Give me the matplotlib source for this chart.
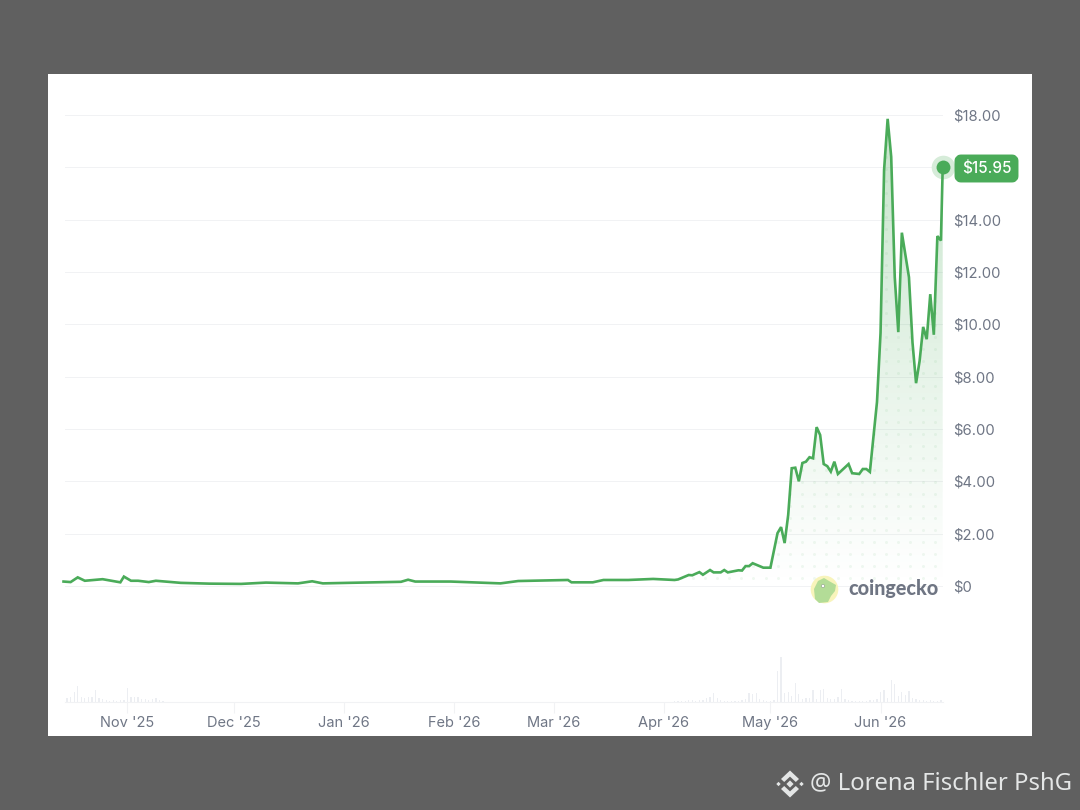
"""CoinGecko style price chart with volume strip and footer credit."""
import matplotlib
matplotlib.use("Agg")
import matplotlib.dates as mdates
import matplotlib.pyplot as plt
import numpy as np
import pandas as pd
from matplotlib.patches import Circle, FancyBboxPatch, Polygon, Rectangle

price_dates = [
    "2025-10-14", "2025-10-16", "2025-10-18", "2025-10-20", "2025-10-25", "2025-10-30", "2025-10-31",
    "2025-11-02", "2025-11-04", "2025-11-07", "2025-11-09", "2025-11-16", "2025-11-24", "2025-12-03",
    "2025-12-10", "2025-12-19", "2025-12-23", "2025-12-26", "2026-01-02", "2026-01-17", "2026-01-19",
    "2026-01-21", "2026-01-31", "2026-02-14", "2026-02-19", "2026-03-05", "2026-03-06", "2026-03-12",
    "2026-03-15", "2026-03-22", "2026-03-29", "2026-04-04", "2026-04-05", "2026-04-08", "2026-04-09",
    "2026-04-11", "2026-04-12", "2026-04-14", "2026-04-15", "2026-04-17", "2026-04-18", "2026-04-19",
    "2026-04-22", "2026-04-23", "2026-04-24", "2026-04-25", "2026-04-26", "2026-04-29", "2026-05-01",
    "2026-05-03", "2026-05-04", "2026-05-05", "2026-05-06", "2026-05-07", "2026-05-08", "2026-05-09",
    "2026-05-10", "2026-05-11", "2026-05-12", "2026-05-13", "2026-05-14", "2026-05-15", "2026-05-16",
    "2026-05-17", "2026-05-18", "2026-05-19", "2026-05-20", "2026-05-23", "2026-05-24", "2026-05-26",
    "2026-05-27", "2026-05-28", "2026-05-29", "2026-05-31", "2026-06-01", "2026-06-02", "2026-06-03",
    "2026-06-04", "2026-06-05", "2026-06-06", "2026-06-07", "2026-06-09", "2026-06-10", "2026-06-11",
    "2026-06-12", "2026-06-13", "2026-06-14", "2026-06-15", "2026-06-16", "2026-06-17", "2026-06-18",
    "2026-06-18 12:00",
]
prices = [
    0.17, 0.15, 0.33, 0.20, 0.26, 0.14, 0.36,
    0.20, 0.20, 0.15, 0.20, 0.12, 0.09, 0.08,
    0.13, 0.10, 0.18, 0.10, 0.12, 0.16, 0.24,
    0.17, 0.17, 0.10, 0.19, 0.23, 0.14, 0.14,
    0.23, 0.23, 0.27, 0.23, 0.25, 0.42, 0.41,
    0.53, 0.43, 0.61, 0.52, 0.52, 0.61, 0.52,
    0.60, 0.59, 0.76, 0.76, 0.87, 0.70, 0.70,
    2.02, 2.25, 1.64, 2.71, 4.50, 4.52, 4.00,
    4.70, 4.75, 4.92, 4.88, 6.07, 5.77, 4.66,
    4.58, 4.37, 4.75, 4.28, 4.66, 4.31, 4.28,
    4.47, 4.47, 4.36, 7.03, 9.67, 15.90, 17.85,
    16.40, 11.80, 9.70, 13.50, 11.80, 9.30, 7.75,
    8.60, 9.90, 9.43, 11.15, 9.60, 13.37, 13.20,
    16.00,
]

# volume only reads as relative bar heights, units are arbitrary
vol_early_start = "2025-10-14"
vol_early = [4, 4, 5, 10, 16, 5, 4, 5, 5, 12, 4, 3, 2, 1, 2, 1, 2, 2, 14, 5, 5, 5, 3, 3, 2, 3, 4, 2, 1]
vol_late_start = "2026-04-04"
vol_late = [
    1, 1, 1, 1, 2, 2, 1, 2, 2, 4, 5, 9, 4, 2, 1, 1, 1, 1, 1, 2, 3, 9, 8, 9, 3, 2, 1, 1, 2,
    31, 45, 9, 10, 6, 19, 8, 3, 4, 4, 12, 3, 12, 13, 4, 3, 3, 5, 13, 3, 2, 1, 1, 1, 1, 1, 2,
    2, 3, 10, 12, 4, 22, 18, 6, 10, 7, 11, 4, 3, 2, 2, 1, 2, 1, 1, 2, 1, 2,
]

y_ticks = [0, 2, 4, 6, 8, 10, 12, 14, 16, 18]
y_labels = ["$0", "$2.00", "$4.00", "$6.00", "$8.00", "$10.00", "$12.00", "$14.00", "", "$18.00"]
month_ticks = ["2025-11-01", "2025-12-01", "2026-01-01", "2026-02-01", "2026-03-01", "2026-04-01", "2026-05-01", "2026-06-01"]
month_labels = ["Nov '25", "Dec '25", "Jan '26", "Feb '26", "Mar '26", "Apr '26", "May '26", "Jun '26"]
last_label = "$15.95"

GREEN = "#4aab59"
GREY_TXT = "#6f7685"
GRID = "#f1f2f4"
W, H = 1080, 810

plt.rcParams["font.family"] = ["Inter", "DejaVu Sans"]

fig = plt.figure(figsize=(10.8, 8.1), dpi=100, facecolor="#606060")


def pix_axes(x0, y0, x1, y1):
    return fig.add_axes([x0 / W, 1 - y1 / H, (x1 - x0) / W, (y1 - y0) / H])


# canvas in pixels for the panel, logo, pill and credit
bg = fig.add_axes([0, 0, 1, 1], zorder=1)
bg.set_xlim(0, W)
bg.set_ylim(H, 0)
bg.axis("off")
bg.add_patch(Rectangle((48, 74), 984, 662, fc="white", ec="none"))

x = pd.to_datetime(price_dates, format="mixed")
x_num = mdates.date2num(x)
xlim = (mdates.date2num(pd.Timestamp("2025-10-14 10:00")), mdates.date2num(pd.Timestamp("2026-06-18 14:00")))

ax = pix_axes(65, 100, 943, 600)
ax.set_zorder(2)
ax.patch.set_alpha(0)
for sp in ax.spines.values():
    sp.set_visible(False)
ax.xaxis.set_visible(False)
ax.yaxis.tick_right()
ax.set_yticks(y_ticks)
ax.set_yticklabels(y_labels, fontsize=10.7, color=GREY_TXT)
ax.tick_params(axis="y", length=0, pad=7)
ax.grid(axis="y", color=GRID, lw=0.7)
ax.set_axisbelow(True)

# gradient and dots under the line, clipped to the area
area = ax.fill_between(x_num, prices, 0, facecolor="none", edgecolor="none")
clip = area.get_paths()[0]
grad = np.zeros((256, 1, 4))
grad[..., :3] = matplotlib.colors.to_rgb(GREEN)
grad[:, 0, 3] = np.linspace(0.36, 0.0, 256) ** 1.1
im = ax.imshow(grad, extent=(*xlim, 0, 18), origin="upper", aspect="auto", zorder=1)
im.set_clip_path(clip, transform=ax.transData)
gx, gy = np.meshgrid(np.arange(xlim[0], xlim[1], 3.4), np.arange(0.3, 18, 0.46))
dots = ax.scatter(gx.ravel(), gy.ravel(), s=5, color=GREEN, alpha=0.08, linewidths=0, zorder=1)
dots.set_clip_path(clip, transform=ax.transData)
ax.set_xlim(*xlim)
ax.set_ylim(-0.535, 18.57)

ax.plot(x_num, prices, color=GREEN, lw=1.9, solid_joinstyle="miter", zorder=3, clip_on=False)
ax.plot(x_num[-1], prices[-1], "o", ms=17, color="#d6ecd9", mec="none", zorder=2, clip_on=False)
ax.plot(x_num[-1], prices[-1], "o", ms=10, color=GREEN, mec="none", zorder=4, clip_on=False)

# volume strip
vol = pix_axes(65, 640, 943, 702)
vol.set_zorder(2)
vol.patch.set_alpha(0)
for start, vals in ((vol_early_start, vol_early), (vol_late_start, vol_late)):
    days = pd.date_range(start, periods=len(vals), freq="D")
    vol.bar(mdates.date2num(days), vals, width=0.35, color="#eceef2")
vol.set_xlim(*xlim)
vol.set_ylim(0, 62)
for sp in ("top", "left", "right"):
    vol.spines[sp].set_visible(False)
vol.spines["bottom"].set_color(GRID)
vol.set_yticks([])
vol.set_xticks(mdates.date2num(pd.to_datetime(month_ticks)))
vol.set_xticklabels(month_labels, fontsize=10.5, color=GREY_TXT)
vol.tick_params(axis="x", length=8, width=0.8, color=GRID, pad=2)

# price pill
top = fig.add_axes([0, 0, 1, 1], zorder=5)
top.set_xlim(0, W)
top.set_ylim(H, 0)
top.axis("off")
top.add_patch(FancyBboxPatch((958, 158), 57, 21, boxstyle="round,pad=0,rounding_size=3", fc=GREEN, ec=GREEN, lw=5, joinstyle="round"))
top.text(986.5, 168, last_label, color="white", fontsize=11, ha="center", va="center", fontweight="medium")

# coingecko mark
top.add_patch(Circle((824.5, 589.5), 13.8, fc="#f8f4bb", ec="none"))
top.add_patch(Polygon([(815, 599), (814, 589), (818, 581), (824, 578), (829, 581), (836, 585), (835, 591),
                       (831, 596), (828, 602), (819, 603)], closed=True, fc="#b3dc97", ec="none"))
top.add_patch(Circle((823, 586), 1.6, fc="white", ec="#8a968a", lw=0.4))
top.text(848, 588.5, "coingecko", color="#6f7583", fontsize=14.2, fontweight="black", family=["Lato", "DejaVu Sans"], va="center", ha="left")

# footer credit
ICON = "#e4e6e6"
cx, cy = 790, 784
for px, py, r in ((cx, cy, 3.6), (cx - 11.5, cy, 2.2), (cx + 11.5, cy, 2.2)):
    top.add_patch(Polygon([(px - r, py), (px, py - r), (px + r, py), (px, py + r)], closed=True, fc=ICON, ec="none"))
for sgn in (-1, 1):
    top.add_patch(Polygon([(cx - 9, cy + sgn * 5), (cx, cy + sgn * 13.5), (cx + 9, cy + sgn * 5),
                           (cx + 5.8, cy + sgn * 2), (cx, cy + sgn * 7.4), (cx - 5.8, cy + sgn * 2)],
                          closed=True, fc=ICON, ec="none"))
top.text(1072, 783.5, "@ Lorena Fischler PshG", color=ICON, fontsize=17.2, family=["Noto Sans", "DejaVu Sans"], ha="right", va="center")

fig.savefig("out.png", dpi=100, facecolor=fig.get_facecolor())
